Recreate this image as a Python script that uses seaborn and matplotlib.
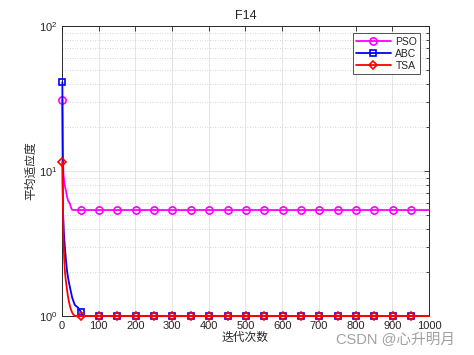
import matplotlib
matplotlib.use("Agg")
import matplotlib.pyplot as plt
import seaborn as sns
import numpy as np
import pandas as pd
from matplotlib.ticker import LogLocator, FixedLocator

sns.set_theme(style="white")
plt.rcParams['font.family'] = ['Liberation Sans', 'Noto Sans CJK SC', 'DejaVu Sans']
plt.rcParams['mathtext.fontset'] = 'custom'
plt.rcParams['mathtext.rm'] = 'Liberation Sans'

title = "F14"
xlabel = "迭代次数"
ylabel = "平均适应度"
watermark = "CSDN @心升明月"
names = ["PSO", "ABC", "TSA"]

marker_iters = [1, 51, 101, 151, 201, 251, 301, 351, 401, 451, 501,
                551, 601, 651, 701, 751, 801, 851, 901, 951]

pso_iters = [1, 2, 3, 4, 6, 8, 11, 14, 17, 20, 22, 25, 27, 30, 40]
pso_vals = [31.0, 16.0, 11.0, 9.5, 8.5, 7.8, 7.3, 6.6, 6.2, 6.05, 5.9, 5.55, 5.42, 5.39, 5.38]
pso_tail = 5.38

abc_iters = [1, 2, 3, 5, 8, 11, 14, 18, 22, 28, 35, 44, 51, 57, 63, 70]
abc_vals = [41.0, 8.0, 5.0, 3.8, 2.94, 2.4, 2.02, 1.75, 1.56, 1.33, 1.19, 1.14, 1.07, 1.02, 1.0, 0.998]
abc_tail = 0.998

tsa_iters = [1, 2, 3, 4, 6, 8, 10, 13, 16, 19, 22, 26, 30, 35, 40]
tsa_vals = [11.5, 7.0, 4.97, 3.4, 2.5, 2.02, 1.8, 1.56, 1.38, 1.25, 1.16, 1.08, 1.03, 1.0, 0.998]
tsa_tail = 0.998

last_iter = 1000


def build(iters, vals, tail):
    xs = list(iters)
    ys = list(vals)
    for m in marker_iters:
        if m > xs[-1]:
            xs.append(m)
            ys.append(tail)
    xs.append(last_iter)
    ys.append(tail)
    return xs, ys


series = [
    (names[0], build(pso_iters, pso_vals, pso_tail), "#ff00ff", "o", 5.2),
    (names[1], build(abc_iters, abc_vals, abc_tail), "#0000ff", "s", 4.6),
    (names[2], build(tsa_iters, tsa_vals, tsa_tail), "#ff0000", "D", 4.4),
]

fig = plt.figure(figsize=(4.74, 3.55), dpi=100)
ax = fig.add_axes([62 / 474, 1 - 316 / 355, (429 - 62) / 474, (316 - 26) / 355])

for name, (xs, ys), color, mk, ms in series:
    idx = [i for i, x in enumerate(xs) if x in marker_iters]
    df = pd.DataFrame({"iter": xs, "val": ys})
    sns.lineplot(data=df, x="iter", y="val", ax=ax, color=color, lw=1.3,
                 marker=mk, markevery=idx, markersize=ms,
                 markerfacecolor="none", markeredgecolor=color, markeredgewidth=1.2,
                 label=name, clip_on=False, zorder=3)

ax.set_yscale("log")
ax.set_xlim(0, 1000)
ax.set_ylim(1, 100)
ax.xaxis.set_major_locator(FixedLocator(np.arange(0, 1001, 100)))
ax.yaxis.set_major_locator(LogLocator(base=10, numticks=5))
ax.yaxis.set_minor_locator(LogLocator(base=10, subs=np.arange(2, 10), numticks=20))

ax.grid(True, which="major", axis="both", color="#e0e0e0", lw=0.6, ls="-", zorder=0)
ax.grid(True, which="minor", axis="y", color="#c8c8c8", lw=0.6, ls=(0, (1, 2)), zorder=0)

ax.tick_params(axis="both", which="both", direction="in", top=True, right=True,
               labelsize=8, colors="#262626", width=0.6)
ax.tick_params(axis="both", which="major", length=3.5)
ax.tick_params(axis="y", which="minor", length=2)
for sp in ax.spines.values():
    sp.set_color("#262626")
    sp.set_linewidth(0.7)

ax.set_title(title, fontsize=9, color="#262626", pad=5)
ax.set_xlabel(xlabel, fontsize=8.5, color="#262626", labelpad=1)
ax.set_ylabel(ylabel, fontsize=8.5, color="#262626", labelpad=1)

leg = ax.legend(loc="upper right", bbox_to_anchor=(0.985, 0.985), fontsize=7.5,
                frameon=True, fancybox=False, edgecolor="#262626",
                handlelength=3.4, handletextpad=0.4, borderpad=0.3,
                labelspacing=0.2, borderaxespad=0.3)
leg.get_frame().set_linewidth(0.7)

fig.text(396 / 474, 1 - 340 / 355, watermark, fontsize=10.5, color="#a0a0a0",
         ha="center", va="center")

fig.savefig("out.png", dpi=100)
